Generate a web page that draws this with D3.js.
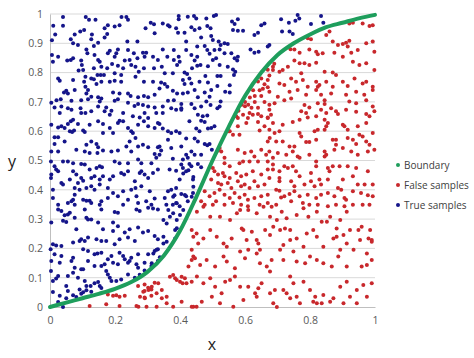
<!DOCTYPE html>
<html>
<head>
<meta charset="utf-8">
<script src="https://cdn.jsdelivr.net/npm/d3@7"></script>
<style>
  html, body { margin: 0; padding: 0; background: #fff; }
  svg { display: block; font-family: "Open Sans", sans-serif; }
</style>
</head>
<body>
<svg id="chart" width="474" height="358"></svg>
<script>
// boundary curve
const boundaryX = [0, .05, .1, .15, .2, .25, .3, .35, .4, .45, .5, .55, .6, .65, .7, .75, .8, .85, .9, .95, 1];
const boundaryY = [0, .015, .03, .045, .062, .085, .12, .175, .26, .375, .5, .615, .72, .8, .86, .9, .93, .955, .97, .985, .997];

const xTicks = [0, 0.2, 0.4, 0.6, 0.8, 1];
const yTicks = [0, 0.1, 0.2, 0.3, 0.4, 0.5, 0.6, 0.7, 0.8, 0.9, 1];

const legendLabels = ['Boundary', 'False samples', 'True samples'];

// blue points (above the boundary)
const trueSamples = [
  [.04,.99],[.01,.96],[.04,.96],[.11,.99],[.12,.98],[.14,.98],[.22,.99],[.235,.99],[.24,.98],[.31,.97],[.32,.965],[.006,.91],[.016,.93],[.076,.93],[.093,.94],[.105,.945],[.129,.93],[.127,.914],[.148,.902],[.168,.951],[.178,.962],[.199,.957],[.214,.962],[.176,.932],[.168,.92],[.238,.906],[.269,.906],[.294,.951],[.322,.934],[.064,.914],[.071,.90],[.086,.894],[.112,.879],[.135,.891],
  [.006,.86],[.025,.854],[.009,.837],[.053,.841],[.064,.843],[.071,.849],[.096,.841],[.115,.866],[.137,.86],[.148,.843],[.153,.837],[.178,.866],[.184,.875],[.209,.879],[.204,.866],[.199,.854],[.24,.877],[.245,.843],[.258,.866],[.269,.849],[.286,.868],[.296,.868],[.291,.854],[.317,.854],[.332,.843],[.088,.807],[.102,.809],[.098,.826],[.135,.815],[.158,.82],[.176,.815],[.191,.829],[.209,.823],[.23,.841],[.225,.815],[.25,.826],[.263,.82],[.273,.803],[.289,.815],[.32,.815],
  [.199,.798],[.219,.792],[.146,.792],[.156,.792],[.166,.792],[.127,.78],[.109,.786],[.105,.769],[.071,.775],[.025,.78],[.03,.772],[.109,.752],[.117,.741],[.135,.777],[.143,.761],[.158,.769],[.184,.769],[.199,.772],[.219,.769],[.263,.786],[.289,.769],[.317,.769],[.05,.738],[.043,.732],[.055,.729],[.076,.741],[.112,.729],[.148,.716],[.158,.712],[.127,.718],[.153,.701],[.096,.706],[.117,.709],[.033,.709],[.02,.706],[.004,.697],[.014,.681],[.035,.684],[.066,.704],[.194,.732],[.214,.729],[.24,.729],[.248,.72],[.271,.716],[.289,.72],[.302,.716],[.322,.724],[.199,.704],[.209,.709],[.24,.697],[.271,.693],[.302,.684],[.322,.681],[.055,.678],[.094,.678],[.148,.684],[.173,.681],[.26,.686],[.286,.689],
  [.347,.968],[.363,.962],[.368,.957],[.396,.993],[.396,.982],[.424,.991],[.443,.993],[.45,.985],[.481,.985],[.504,.993],[.511,.997],[.56,.974],[.568,.966],[.578,.982],[.563,.945],[.578,.943],[.594,.943],[.629,.928],[.64,.936],[.65,.962],[.66,.968],[.388,.951],[.394,.936],[.414,.936],[.419,.906],[.435,.955],[.445,.945],[.46,.951],[.484,.959],[.494,.951],[.465,.92],[.496,.925],[.501,.911],[.519,.906],[.525,.894],[.537,.90],[.547,.898],
  [.347,.879],[.381,.877],[.419,.877],[.453,.889],[.476,.891],[.484,.877],[.506,.877],[.522,.879],[.537,.866],[.558,.866],[.617,.879],[.629,.868],[.642,.871],[.67,.889],[.361,.854],[.381,.843],[.396,.854],[.399,.837],[.391,.826],[.435,.86],[.445,.841],[.453,.854],[.491,.864],[.501,.843],[.511,.849],[.486,.822],[.522,.826],[.568,.849],[.576,.841],[.578,.854],[.547,.82],[.563,.811],[.57,.803],[.566,.792],
  [.344,.82],[.353,.798],[.378,.798],[.414,.80],[.422,.795],[.437,.815],[.453,.823],[.463,.826],[.478,.788],[.515,.788],[.525,.788],[.342,.766],[.353,.761],[.361,.752],[.337,.746],[.409,.775],[.414,.761],[.429,.78],[.435,.763],[.46,.769],[.486,.766],[.515,.754],[.553,.757],[.378,.738],[.391,.729],[.409,.729],[.424,.732],[.445,.741],[.476,.732],[.496,.741],[.491,.718],[.455,.716],[.481,.701],[.494,.689],[.525,.701],[.522,.684],[.539,.735],[.553,.732],[.363,.704],[.381,.706],[.404,.693],[.435,.693],[.347,.684],[.373,.678],[.404,.678],[.445,.678],[.465,.684],[.515,.678],
  [.711,.982],[.735,.97],[.755,.977],[.762,.997],[.767,.985],[.803,.966],[.834,.993],[.841,.97],[.714,.94],[.737,.94],[.747,.932],[.675,.894],
  [.03,.662],[.066,.673],[.096,.662],[.109,.662],[.127,.668],[.168,.668],[.184,.656],[.189,.67],[.225,.662],[.255,.651],[.276,.647],[.291,.662],[.302,.645],[.327,.662],[.004,.622],[.025,.613],[.035,.617],[.045,.611],[.055,.625],[.064,.634],[.071,.639],[.061,.60],[.068,.597],[.074,.602],[.086,.625],[.102,.602],[.107,.597],[.122,.622],[.148,.634],[.163,.625],[.163,.594],[.184,.611],[.194,.594],[.209,.628],[.214,.636],[.225,.634],[.24,.611],[.25,.60],[.255,.594],[.263,.577],[.271,.622],[.289,.634],[.302,.617],[.322,.611],[.332,.628],
  [.014,.579],[.025,.579],[.004,.531],[.014,.556],[.025,.531],[.045,.565],[.081,.537],[.107,.531],[.112,.554],[.122,.526],[.127,.565],[.143,.556],[.148,.545],[.146,.526],[.163,.534],[.189,.531],[.209,.534],[.235,.548],[.245,.565],[.25,.531],[.271,.548],[.286,.554],[.302,.545],[.332,.545],[.322,.522],
  [.003,.497],[.014,.48],[.019,.469],[.025,.463],[.04,.497],[.055,.497],[.071,.491],[.096,.488],[.107,.486],[.122,.469],[.143,.474],[.153,.48],[.16,.477],[.199,.497],[.214,.491],[.24,.491],[.271,.503],[.281,.491],[.312,.491],[.327,.509],[.337,.52],[.003,.44],[.004,.452],[.035,.423],[.061,.435],[.071,.463],[.081,.452],[.086,.423],[.096,.44],[.102,.431],[.127,.44],[.137,.446],[.153,.435],[.163,.446],[.184,.435],[.194,.446],[.219,.457],[.228,.452],[.24,.463],[.261,.429],[.276,.457],[.281,.463],[.291,.452],[.302,.44],[.317,.457],[.332,.469],
  [.009,.40],[.04,.418],[.076,.406],[.091,.40],[.112,.406],[.127,.412],[.137,.40],[.153,.418],[.178,.406],[.194,.389],[.225,.395],[.25,.40],[.263,.406],[.281,.412],[.307,.395],[.076,.383],[.071,.366],[.066,.361],[.055,.355],[.076,.349],[.102,.366],[.112,.363],[.122,.363],[.127,.355],[.153,.349],[.158,.361],[.178,.372],[.209,.378],[.225,.349],[.24,.366],[.266,.378],[.271,.355],[.296,.361],[.312,.349],[.322,.37],[.025,.349],[.009,.372],
  [.347,.662],[.388,.673],[.404,.673],[.455,.656],[.47,.651],[.484,.654],[.465,.636],[.476,.631],[.337,.625],[.347,.609],[.363,.60],[.373,.594],[.388,.60],[.399,.594],[.429,.634],[.45,.609],[.46,.60],[.486,.609],[.496,.611],[.506,.617],[.419,.575],[.445,.575],[.455,.565],[.476,.556],[.484,.552],[.491,.556],[.498,.537],[.363,.571],[.337,.548],[.342,.534],[.373,.543],[.404,.548],[.435,.531],[.445,.52],[.465,.52],[.419,.52],[.378,.506],[.409,.503],[.424,.509],
  [.368,.469],[.388,.465],[.404,.486],[.409,.474],[.429,.488],[.435,.48],[.419,.463],[.455,.488],[.465,.477],[.399,.435],[.44,.435],[.373,.40],[.388,.406],[.363,.395],[.353,.372],[.383,.381],[.404,.386],[.419,.378],[.44,.389],[.378,.349],[.388,.355],[.358,.349],[.399,.344],[.424,.361],
  [.025,.333],[.035,.328],[.045,.313],[.055,.316],[.061,.322],[.076,.305],[.107,.333],[.112,.305],[.117,.299],[.127,.299],[.158,.333],[.199,.324],[.209,.322],[.194,.288],[.266,.333],[.276,.328],[.302,.339],[.317,.336],[.332,.333],[.004,.288],[.04,.294],[.05,.29],[.081,.265],[.148,.288],[.163,.265],[.194,.259],[.209,.276],[.23,.254],[.245,.265],[.271,.271],[.286,.254],[.302,.259],[.322,.242],[.332,.231],
  [.009,.214],[.019,.21],[.035,.208],[.071,.22],[.091,.225],[.096,.231],[.107,.225],[.117,.237],[.143,.231],[.158,.225],[.173,.225],[.199,.214],[.214,.231],[.24,.237],[.261,.225],[.002,.197],[.014,.18],[.035,.174],[.071,.168],[.102,.197],[.117,.191],[.137,.18],[.146,.183],[.158,.185],[.178,.163],[.189,.174],[.214,.185],[.225,.174],[.23,.163],[.245,.157],[.25,.168],[.271,.18],[.302,.18],[.322,.191],[.332,.197],
  [.004,.157],[.03,.151],[.066,.157],[.096,.129],[.117,.157],[.137,.14],[.158,.14],[.168,.146],[.173,.123],[.194,.151],[.209,.146],[.24,.151],[.266,.146],[.271,.134],[.291,.151],[.312,.14],[.332,.157],[.003,.123],[.009,.089],[.019,.097],[.025,.106],[.055,.106],[.071,.117],[.076,.134],[.086,.10],[.102,.129],[.107,.089],[.112,.072],[.125,.072],[.137,.081],[.148,.085],[.153,.072],[.178,.111],[.184,.10],[.189,.089],[.204,.089],[.219,.094],[.24,.111],[.261,.1],[.276,.11],[.291,.125],
  [.009,.051],[.03,.038],[.05,.072],[.055,.055],[.071,.04],[.081,.034],[.091,.06],[.096,.045],[.102,.05],[.112,.057],[.127,.052],[.158,.065],[.05,.03],[.04,0],[.025,.017],
  [.349,.297],[.359,.285],[.369,.308],[.379,.32],[.39,.297],[.40,.314],[.41,.331],[.385,.263],[.39,.269],[.349,.24],[.359,.223],[.385,.234],[.328,.195],[.349,.217],[.338,.17],[.313,.149],[.318,.183],[.39,.354],[.436,.376],[.441,.41],[.415,.382],[.379,.376],[.364,.331],[.41,.456],[.426,.467],[.441,.444]
];

// red points (below the boundary)
const falseSamples = [
  [.6,.7],[.61,.69],[.625,.74],[.63,.72],[.64,.77],[.65,.78],[.66,.76],[.67,.81],[.675,.79],[.62,.68],[.65,.72],[.66,.7],[.64,.68],[.58,.67],[.6,.685],[.63,.7],[.67,.75],[.655,.745],[.615,.715],[.645,.74],[.675,.69],[.59,.69],
  [.86,.94],[.85,.928],[.793,.917],[.803,.914],[.921,.968],[.932,.97],[.962,.968],[.983,.959],[.993,.962],[.87,.906],[.886,.894],[.901,.898],[.911,.902],[.921,.909],[.916,.889],[.74,.88],[.752,.879],[.768,.868],[.798,.879],[.819,.871],[.824,.863],[.839,.866],[.875,.868],[.901,.854],[.927,.868],[.947,.877],[.973,.90],[.993,.906],[.998,.871],
  [.69,.83],[.686,.82],[.686,.809],[.706,.803],[.716,.809],[.732,.82],[.752,.841],[.768,.832],[.783,.832],[.773,.798],[.798,.826],[.819,.834],[.845,.803],[.87,.80],[.88,.792],[.932,.837],[.952,.826],[.973,.832],[.998,.809],[.67,.775],[.706,.763],[.721,.758],[.742,.78],[.757,.769],[.778,.775],[.793,.752],[.819,.769],[.824,.752],[.829,.758],[.85,.769],[.87,.752],[.901,.769],[.916,.754],[.937,.78],[.962,.763],[.973,.769],[.993,.752],
  [.675,.735],[.701,.718],[.737,.735],[.762,.741],[.788,.724],[.819,.741],[.834,.724],[.845,.706],[.865,.729],[.911,.724],[.942,.735],[.967,.724],[.993,.741],[.691,.695],[.721,.706],[.742,.712],[.783,.689],[.798,.681],[.824,.695],[.845,.693],[.865,.678],[.921,.701],[.942,.695],[.973,.706],[.993,.684],
  [.573,.651],[.578,.645],[.594,.656],[.614,.662],[.624,.656],[.64,.659],[.65,.651],[.609,.645],[.64,.631],[.67,.645],[.604,.628],[.55,.6],[.553,.60],[.563,.588],[.578,.617],[.583,.588],[.645,.602],[.66,.617],[.676,.577],[.522,.543],[.527,.531],[.517,.534],[.537,.509],[.578,.537],[.599,.526],[.619,.531],[.629,.514],[.65,.537],[.665,.52],
  [.537,.491],[.553,.48],[.583,.491],[.594,.497],[.614,.497],[.64,.497],[.501,.474],[.506,.463],[.517,.452],[.532,.457],[.537,.446],[.553,.44],[.573,.457],[.588,.446],[.604,.452],[.624,.463],[.65,.452],[.67,.469],[.496,.435],[.517,.423],[.527,.418],[.547,.423],[.558,.406],[.578,.429],[.588,.412],[.599,.418],[.614,.406],[.629,.429],[.64,.412],[.66,.418],
  [.476,.395],[.491,.378],[.506,.389],[.522,.40],[.537,.383],[.553,.372],[.568,.389],[.583,.374],[.599,.383],[.609,.366],[.629,.372],[.65,.378],[.67,.383],[.465,.361],[.476,.349],[.501,.349],[.511,.361],[.537,.349],[.563,.355],[.588,.349],[.609,.344],[.645,.349],
  [.675,.673],[.68,.656],[.67,.647],[.686,.628],[.716,.622],[.747,.631],[.768,.639],[.773,.668],[.788,.662],[.793,.647],[.819,.651],[.834,.673],[.845,.639],[.85,.662],[.88,.668],[.886,.659],[.911,.673],[.942,.666],[.973,.659],[.983,.651],[.998,.668],[.675,.605],[.691,.594],[.706,.60],[.768,.594],[.773,.582],[.814,.60],[.824,.605],[.845,.605],[.85,.617],[.855,.628],[.87,.571],[.901,.622],[.906,.617],[.916,.605],[.947,.617],[.973,.628],[.952,.588],[.962,.582],[.993,.594],
  [.67,.565],[.696,.565],[.716,.565],[.737,.548],[.752,.548],[.788,.563],[.798,.563],[.819,.571],[.845,.531],[.85,.52],[.88,.571],[.88,.554],[.916,.577],[.932,.571],[.942,.556],[.973,.565],[.983,.554],[.675,.531],[.686,.509],[.701,.526],[.727,.52],[.747,.531],[.762,.514],[.768,.509],[.798,.52],[.819,.497],[.845,.514],[.875,.537],[.901,.543],[.927,.531],[.947,.52],[.978,.531],[.998,.537],
  [.67,.497],[.686,.486],[.686,.469],[.706,.463],[.721,.48],[.732,.474],[.747,.48],[.757,.463],[.768,.446],[.803,.457],[.819,.48],[.829,.435],[.855,.474],[.86,.463],[.87,.48],[.891,.48],[.916,.48],[.942,.474],[.978,.463],[.675,.44],[.706,.44],[.706,.429],[.742,.429],[.752,.412],[.783,.418],[.803,.429],[.814,.412],[.834,.418],[.855,.435],[.886,.406],[.901,.435],[.932,.446],[.947,.418],[.968,.418],[.993,.418],
  [.696,.40],[.706,.397],[.711,.374],[.721,.378],[.737,.386],[.752,.395],[.768,.378],[.793,.383],[.819,.372],[.834,.383],[.855,.389],[.875,.378],[.896,.40],[.906,.372],[.911,.366],[.932,.395],[.957,.389],[.978,.381],[.993,.378],[.67,.355],[.696,.349],[.742,.361],[.778,.355],[.798,.349],[.824,.349],[.855,.344],[.88,.349],[.906,.344],[.932,.349],[.962,.349],[.983,.349],
  [.178,.043],[.194,.038],[.204,.04],[.214,.035],[.23,.038],[.271,.072],[.291,.077],[.302,.066],[.291,.055],[.312,.06],[.312,.038],[.291,.032],[.322,.083],[.122,.003],[.173,.009],[.214,.003],[.266,.003],
  [.292,.03],[.303,.058],[.313,.069],[.328,.047],[.333,.081],[.344,.03],[.359,.013],[.369,.103],[.379,.109],[.385,.098],[.39,.092],[.40,.086],[.405,.103],[.408,.081],[.415,.098],[.42,.081],[.426,.138],[.436,.195],[.441,.172],[.436,.263],[.451,.251],[.456,.217],[.441,.001],[.451,.001],[.405,.018],[.379,.001],[.328,.001],[.297,.001],[.272,.001],[.277,.035],[.287,.052],[.359,.035],[.344,.058],
  [.452,.325],[.472,.342],[.493,.308],[.523,.308],[.554,.297],[.575,.32],[.585,.331],[.61,.331],[.636,.32],[.657,.342],[.682,.342],[.677,.308],[.698,.297],[.713,.325],[.728,.303],[.759,.314],[.78,.337],[.795,.308],[.821,.325],[.836,.291],[.852,.291],[.862,.308],[.882,.268],[.893,.297],[.913,.325],[.923,.263],[.949,.263],[.959,.274],[.985,.263],[.99,.229],[.98,.234],
  [.441,.24],[.472,.234],[.493,.263],[.513,.24],[.534,.217],[.544,.206],[.559,.234],[.59,.268],[.595,.263],[.605,.229],[.621,.257],[.636,.229],[.646,.195],[.641,.217],[.662,.263],[.677,.246],[.687,.274],[.708,.263],[.723,.268],[.739,.263],[.718,.212],[.739,.229],[.759,.234],[.78,.206],[.79,.251],[.81,.263],[.821,.24],[.841,.206],[.872,.234],[.882,.24],[.903,.246],[.913,.217],[.934,.195],[.954,.229],[.975,.183],[.99,.223],
  [.436,.16],[.446,.166],[.462,.143],[.482,.16],[.508,.138],[.534,.172],[.544,.155],[.569,.132],[.585,.189],[.6,.166],[.61,.195],[.636,.183],[.646,.149],[.667,.138],[.682,.16],[.677,.121],[.708,.195],[.718,.16],[.749,.189],[.759,.155],[.785,.149],[.8,.172],[.821,.16],[.841,.149],[.867,.138],[.887,.172],[.893,.195],[.913,.138],[.959,.138],[.975,.143],[.99,.16],
  [.436,.086],[.452,.104],[.472,.081],[.493,.098],[.508,.069],[.528,.047],[.539,.086],[.554,.092],[.569,.104],[.585,.069],[.61,.069],[.631,.047],[.641,.064],[.651,.081],[.677,.047],[.692,.058],[.698,0],[.718,.058],[.739,.104],[.749,.081],[.728,.047],[.759,.035],[.78,.086],[.8,.058],[.816,.035],[.821,.013],[.841,.041],[.862,.018],[.872,.03],[.893,.069],[.913,.086],[.923,.035],[.944,.058],[.964,.075],[.975,.035],[.99,.081],
  [.436,.001],[.467,.018],[.498,.035],[.523,.013],[.564,.001],[.595,.024],[.636,.035],[.687,.013],[.739,.03],[.769,.013],[.81,.018],[.836,.013],[.903,.013],[.944,.013]
];

const colors = { boundary: '#1e9e5c', falseS: '#c8282c', trueS: '#15158a', grid: '#d9d9d9', axis: '#bfbfbf', text: '#595959' };

const svg = d3.select('#chart');

const x = d3.scaleLinear().domain([0, 1]).range([50, 375]);
const y = d3.scaleLinear().domain([0, 1]).range([307, 14]);

// horizontal grid lines
svg.append('g')
  .selectAll('line.grid')
  .data(yTicks.filter(d => d > 0))
  .join('line')
  .attr('x1', x(0)).attr('x2', x(1))
  .attr('y1', d => y(d)).attr('y2', d => y(d))
  .attr('stroke', colors.grid)
  .attr('stroke-width', 1);

// y axis
const yAxis = svg.append('g')
  .attr('transform', `translate(${x(0)},0)`)
  .call(d3.axisLeft(y).tickValues(yTicks).tickSize(0).tickPadding(7).tickFormat(d3.format('~g')));
yAxis.select('.domain').attr('stroke', colors.axis);
yAxis.selectAll('text').attr('fill', colors.text).style('font-size', '10.5px').style('font-family', '"Open Sans", sans-serif');

// x axis
const xAxis = svg.append('g')
  .attr('transform', `translate(0,${y(0)})`)
  .call(d3.axisBottom(x).tickValues(xTicks).tickSize(0).tickPadding(10).tickFormat(d3.format('~g')));
xAxis.select('.domain').attr('stroke', colors.axis);
xAxis.selectAll('text').attr('fill', colors.text).style('font-size', '10.5px').style('font-family', '"Open Sans", sans-serif');

// samples
svg.append('g')
  .selectAll('circle')
  .data(falseSamples)
  .join('circle')
  .attr('cx', d => x(d[0]))
  .attr('cy', d => y(d[1]))
  .attr('r', 2)
  .attr('fill', colors.falseS);

svg.append('g')
  .selectAll('circle')
  .data(trueSamples)
  .join('circle')
  .attr('cx', d => x(d[0]))
  .attr('cy', d => y(d[1]))
  .attr('r', 2)
  .attr('fill', colors.trueS);

// boundary line on top
const line = d3.line()
  .x(d => x(d[0]))
  .y(d => y(d[1]))
  .curve(d3.curveMonotoneX);

svg.append('path')
  .datum(boundaryX.map((v, i) => [v, boundaryY[i]]))
  .attr('d', line)
  .attr('fill', 'none')
  .attr('stroke', colors.boundary)
  .attr('stroke-width', 4)
  .attr('stroke-linecap', 'round');

// axis titles
svg.append('text')
  .attr('x', 12).attr('y', 167)
  .attr('text-anchor', 'middle')
  .attr('fill', '#222')
  .style('font-size', '16px')
  .text('y');

svg.append('text')
  .attr('x', 212).attr('y', 350)
  .attr('text-anchor', 'middle')
  .attr('fill', '#222')
  .style('font-size', '16px')
  .text('x');

// legend
const legendColors = [colors.boundary, colors.falseS, colors.trueS];
const legend = svg.append('g')
  .selectAll('g')
  .data(legendLabels)
  .join('g')
  .attr('transform', (d, i) => `translate(398,${165 + i * 20})`);

legend.append('circle')
  .attr('r', 2)
  .attr('fill', (d, i) => legendColors[i]);

legend.append('text')
  .attr('x', 6).attr('dy', '0.35em')
  .attr('fill', '#404040')
  .style('font-size', '10px')
  .text(d => d);
</script>
</body>
</html>
